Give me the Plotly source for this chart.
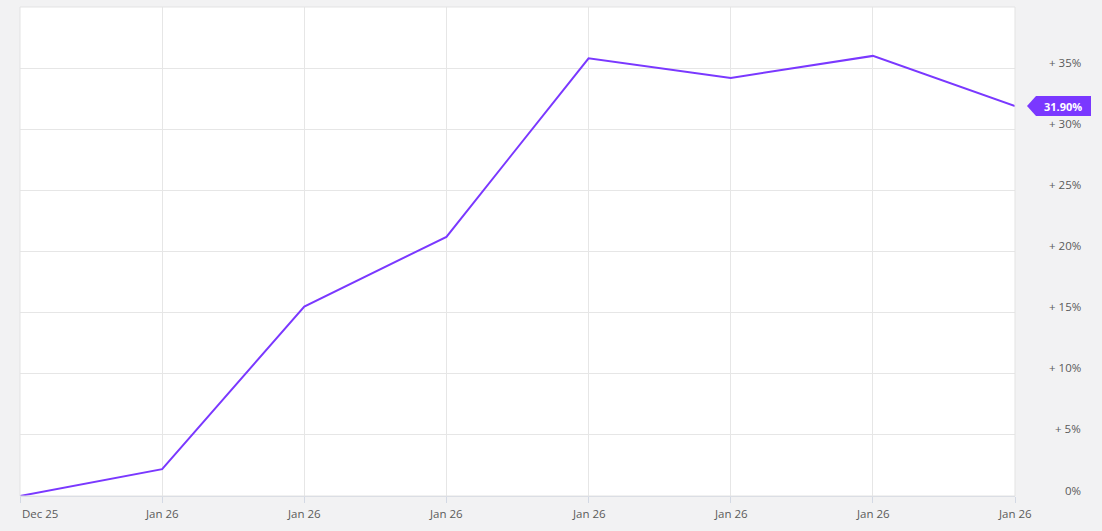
import plotly.graph_objects as go

x_idx = [0, 1, 2, 3, 4, 5, 6, 7]
x_labels = ["Dec 25", "Jan 26", "Jan 26", "Jan 26", "Jan 26", "Jan 26", "Jan 26", "Jan 26"]
values = [0.0, 2.2, 15.5, 21.2, 35.8, 34.2, 36.0, 31.9]
y_ticks = [0, 5, 10, 15, 20, 25, 30, 35]
y_tick_labels = ["0%", "+ 5%", "+ 10%", "+ 15%", "+ 20%", "+ 25%", "+ 30%", "+ 35%"]
last_label = "31.90%"

PURPLE = "#7a38ff"
TXT = "#5a5a5a"
FONT = "Open Sans"
FS = 11.5

fig = go.Figure()
fig.add_trace(go.Scatter(x=x_idx, y=values, mode="lines",
                         line=dict(color=PURPLE, width=2), hoverinfo="skip"))

fig.update_layout(
    width=1102, height=531,
    margin=dict(l=20, r=87, t=7, b=35),
    paper_bgcolor="#f2f2f3", plot_bgcolor="#ffffff",
    showlegend=False,
    font=dict(family=FONT, size=FS, color=TXT),
)
fig.update_xaxes(range=[0, 7], tickvals=x_idx, showticklabels=False,
                 showgrid=True, gridcolor="#e6e6e6", gridwidth=1,
                 zeroline=False, showline=True, linecolor="#d3d9e4", linewidth=1,
                 ticks="outside", ticklen=6, tickcolor="#d3d9e4")
fig.update_yaxes(range=[0, 40], tickvals=y_ticks + [40], showticklabels=False,
                 showgrid=True, gridcolor="#e6e6e6", gridwidth=1,
                 zeroline=False, showline=False)

# plot border
fig.add_shape(type="rect", xref="paper", yref="paper", x0=0, x1=1, y0=0, y1=1,
              line=dict(color="#e3e3e3", width=1), layer="above")

annotations = []
for i, lab in zip(x_idx, x_labels):
    annotations.append(dict(x=i, y=0, xref="x", yref="paper", text=lab, showarrow=False,
                            xanchor="left" if i == 0 else "center", yanchor="top",
                            yshift=-8, font=dict(family=FONT, size=FS, color=TXT)))
for v, lab in zip(y_ticks, y_tick_labels):
    annotations.append(dict(x=1, y=v, xref="paper", yref="y", text=lab, showarrow=False,
                            xanchor="right", yanchor="middle", xshift=68, yshift=6,
                            font=dict(family=FONT, size=FS, color=TXT)))

# last value tag
fig.add_shape(type="path", xref="paper", yref="y", xanchor=1, yanchor=values[-1],
              xsizemode="pixel", ysizemode="pixel",
              path="M 12,0 L 21,-10 L 76,-10 L 76,10 L 21,10 Z",
              fillcolor=PURPLE, line=dict(width=0), layer="above")
annotations.append(dict(x=1, y=values[-1], xref="paper", yref="y", text="<b>" + last_label + "</b>",
                        showarrow=False, xanchor="center", yanchor="middle", xshift=48,
                        font=dict(family=FONT, size=11, color="#ffffff")))
fig.update_layout(annotations=annotations)

fig.write_html("out.html", config={"displayModeBar": False},
               post_script="document.body.style.margin='0';document.body.style.background='#f2f2f3';")
